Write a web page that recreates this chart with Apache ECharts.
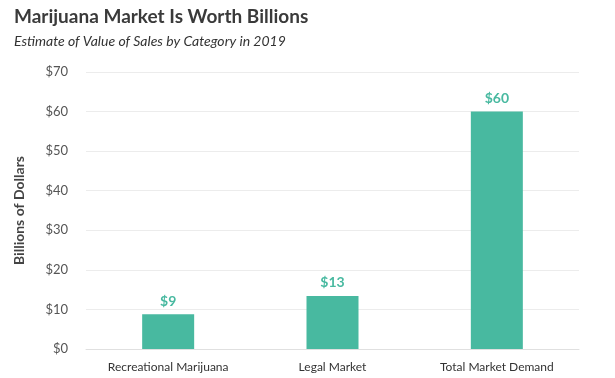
<!DOCTYPE html>
<html>
<head>
<meta charset="utf-8">
<script src="https://cdn.jsdelivr.net/npm/echarts@6/dist/echarts.min.js"></script>
<style>
  html, body { margin: 0; padding: 0; background: #fff; }
  #chart { width: 615px; height: 378px; }
</style>
</head>
<body>
<div id="chart"></div>
<script>
// 分类与数值（十亿美元）
const categories = ['Recreational Marijuana', 'Legal Market', 'Total Market Demand'];
const salesValues = [8.8, 13.4, 60];
const yTicks = [0, 10, 20, 30, 40, 50, 60, 70];

let myChart = echarts.init(document.getElementById('chart'));

let option = {
  animation: false,
  textStyle: { fontFamily: 'Lato, "Open Sans", sans-serif' },
  title: {
    text: 'Marijuana Market Is Worth Billions',
    subtext: 'Estimate of Value of Sales by Category in 2019',
    left: 9,
    top: 2,
    itemGap: 8,
    textStyle: { fontSize: 19, fontWeight: 'bold', color: '#3a3a3a', fontFamily: 'Lato' },
    subtextStyle: { fontSize: 14, fontStyle: 'italic', color: '#333', fontFamily: 'Lato' }
  },
  grid: {
    left: 86,
    right: 36,
    top: 72,
    bottom: 29
  },
  xAxis: {
    type: 'category',
    data: categories,
    axisLine: { lineStyle: { color: '#e0e0e0', width: 1 } },
    axisTick: { show: false },
    axisLabel: { color: '#333', fontSize: 12, margin: 12, fontFamily: 'Lato' }
  },
  yAxis: {
    type: 'value',
    min: yTicks[0],
    max: yTicks[yTicks.length - 1],
    interval: 10,
    name: 'Billions of Dollars',
    nameLocation: 'middle',
    nameGap: 60,
    nameTextStyle: { fontSize: 14, fontWeight: 'bold', color: '#444', fontFamily: 'Lato' },
    axisLine: { show: false },
    axisTick: { show: false },
    splitLine: { lineStyle: { color: '#ececec' } },
    axisLabel: {
      color: '#555',
      fontSize: 13,
      margin: 18,
      fontFamily: 'Lato',
      formatter: (v) => '$' + v
    }
  },
  series: [{
    type: 'bar',
    data: salesValues,
    barWidth: 52,
    itemStyle: { color: '#48b9a0' },
    label: {
      show: true,
      position: 'top',
      distance: 6,
      color: '#48b9a0',
      fontSize: 14,
      fontWeight: 'bold',
      fontFamily: 'Lato',
      formatter: (p) => '$' + Math.round(p.value)
    }
  }]
};

myChart.setOption(option, true);
</script>
</body>
</html>
